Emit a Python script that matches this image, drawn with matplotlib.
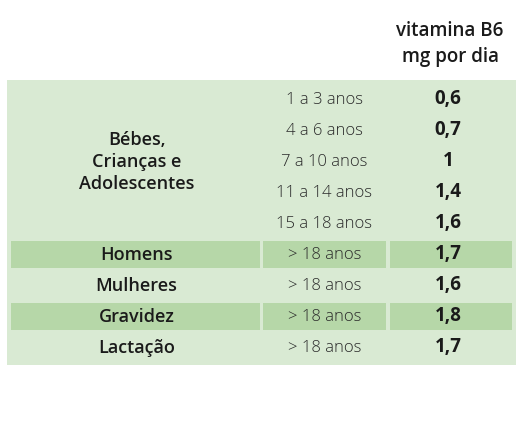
import matplotlib
matplotlib.use("Agg")
import matplotlib.pyplot as plt
from matplotlib.patches import Rectangle

# ---- data ----
groups = ["Bébes,\nCrianças e\nAdolescentes", "Homens", "Mulheres", "Gravidez", "Lactação"]
group_rows = [5, 1, 1, 1, 1]          # number of age rows per group
highlight = [False, True, False, True, False]
ages = ["1 a 3 anos", "4 a 6 anos", "7 a 10 anos", "11 a 14 anos", "15 a 18 anos",
        "> 18 anos", "> 18 anos", "> 18 anos", "> 18 anos"]
values = ["0,6", "0,7", "1", "1,4", "1,6", "1,7", "1,6", "1,8", "1,7"]
header = "vitamina B6\nmg por dia"

LIGHT = "#d9ead3"
DARK = "#b6d7a8"
TXT = "#1a1a1a"
FONT = "Open Sans"

W, H = 525, 432
fig = plt.figure(figsize=(W / 100, H / 100), dpi=100)
ax = fig.add_axes([0, 0, 1, 1])
ax.set_xlim(0, W)
ax.set_ylim(H, 0)
ax.axis("off")

# layout (pixels)
row0, pitch = 99, 31
cols = [(11, 260), (263, 386), (390, 512)]
cx = [(a + b) / 2 for a, b in cols]

# background
ax.add_patch(Rectangle((7, 80), 516 - 7, 365 - 80, facecolor=LIGHT, edgecolor="none"))

# header
ax.text(450, 44, header, ha="center", va="center", fontsize=13.5, fontweight="semibold",
        family=FONT, color=TXT, linespacing=1.4)

r = 0
for g, n, hl in zip(groups, group_rows, highlight):
    yc_first = row0 + pitch * r
    yc_last = row0 + pitch * (r + n - 1)
    if hl:
        for (a, b) in cols:
            ax.add_patch(Rectangle((a, yc_first - 13.5), b - a, 27, facecolor=DARK, edgecolor="none"))
    ax.text(cx[0] + 1, (yc_first + yc_last) / 2 + 1, g, ha="center", va="center", fontsize=13,
            fontweight="semibold", family=FONT, color=TXT, linespacing=1.28)
    r += n

for i, (a, v) in enumerate(zip(ages, values)):
    y = row0 + pitch * i
    ax.text(cx[1], y + 1, a, ha="center", va="center", fontsize=12, fontweight="light",
            family=FONT, color="#2a2a2a")
    ax.text(448, y, v, ha="center", va="center", fontsize=13.5, fontweight="bold",
            family=FONT, color=TXT)

fig.savefig("out.png", dpi=100, facecolor="white")
